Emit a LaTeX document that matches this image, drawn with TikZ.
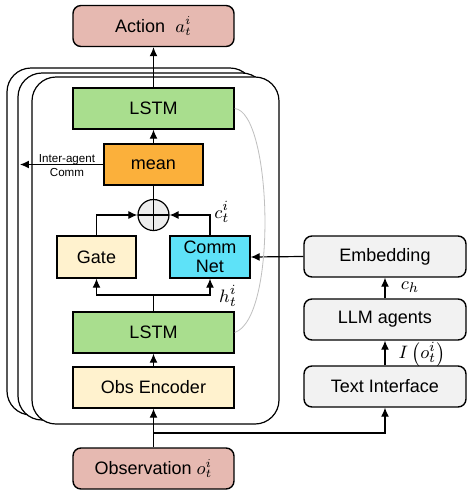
\documentclass[tikz,border=0pt]{standalone}
\usepackage{fontspec}
\setmainfont{Liberation Sans}
\usetikzlibrary{arrows.meta, calc}

\definecolor{pinkbox}{RGB}{230,185,177}
\definecolor{lstmgreen}{RGB}{169,222,142}
\definecolor{meanorange}{RGB}{251,176,59}
\definecolor{creambox}{RGB}{255,242,206}
\definecolor{commcyan}{RGB}{94,226,248}
\definecolor{greybox}{RGB}{242,242,242}

\tikzset{
    blk/.style={draw, line width=0.7pt, minimum width=80.5pt, minimum height=20.5pt, inner sep=1pt, font=\fontsize{9}{10}\selectfont},
    rblk/.style={blk, rounded corners=4pt},
    agent/.style={draw, line width=0.6pt, rounded corners=12pt, fill=white},
    lbl/.style={font=\fontsize{9.5}{10}\selectfont},
}

\begin{document}
\begin{tikzpicture}[x=0.5pt, y=-0.5pt, >={Latex[length=4.5pt,width=4pt]}, line width=0.6pt]
            \useasboundingbox (0,0) rectangle (474,495);
            % Stacked agents:
            \draw [agent] (7,68) rectangle (254,415);
            \draw [agent] (18,73) rectangle (266,420);
            \draw [agent] (32,77) rectangle (279,424);

            % Blocks of one agent:
            \node [rblk, fill=pinkbox] (action) at (153.5,26) {Action\ \ $a_t^i$};
            \node [blk, fill=lstmgreen] (lstmtop) at (153.5,108.5) {LSTM};
            \node [blk, fill=meanorange, minimum width=49.5pt] (mean) at (153.5,164.5) {mean};
            \node [draw, circle, fill=black!7, minimum size=15.5pt, inner sep=0pt,
                   path picture={\draw (path picture bounding box.north) -- (path picture bounding box.south)
                                       (path picture bounding box.west) -- (path picture bounding box.east);}]
                  (plus) at (153.5,215) {};
            \node [blk, fill=creambox, minimum width=39.5pt, minimum height=21pt] (gate) at (96.5,257) {Gate};
            \node [blk, fill=commcyan, minimum width=40pt, minimum height=21pt, align=center,
                   font=\fontsize{9}{9.5}\selectfont] (commnet) at (210,257) {Comm\\Net};
            \node [blk, fill=lstmgreen] (lstmbot) at (153.5,332.5) {LSTM};
            \node [blk, fill=creambox] (encoder) at (153.5,387.5) {Obs Encoder};
            \node [rblk, fill=pinkbox] (obs) at (153.5,468.5) {Observation\ $o_t^i$};

            % LLM side:
            \node [rblk, fill=greybox, minimum width=81pt] (embed) at (385,256.5) {Embedding};
            \node [rblk, fill=greybox, minimum width=81pt] (llm) at (385,319.5) {LLM agents};
            \node [rblk, fill=greybox, minimum width=81pt] (textif) at (385,386.5) {Text Interface};

            \coordinate (split) at (153.5,295);
            \coordinate (branch) at (153.5,433);
            \coordinate (out) at (20,164.5);

            % Connectors:
            \draw [->] (lstmtop) -- (action);
            \draw [->] (mean) -- (lstmtop);
            \draw (plus) -- (mean);
            \draw [->] (gate.north) |- (plus.west);
            \draw [->] (commnet.north) |- (plus.east);
            \draw [->] (mean.west) -- (out);
            \draw (lstmbot.north) -- (split);
            \draw [->] (split) -| (gate.south);
            \draw [->] (split) -| (commnet.south);
            \draw [->] (encoder) -- (lstmbot);
            \draw [->] (obs) -- (encoder);
            \draw [->] (branch) -| (textif.south);
            \draw [->] (textif) -- (llm);
            \draw [->] (llm) -- (embed);
            \draw [->] (embed.west) -- (commnet.east);
            \draw [black!25, line width=0.4pt] (lstmtop.east) .. controls (272,112) and (278,318) .. (lstmbot.east);

            % Labels:
            \node [font=\fontsize{5.8}{6.8}\selectfont, align=center] (interlbl) at (67,165.5) {Inter-agent\\Comm};
            \node [lbl] (clbl) at (222,212) {$c_t^i$};
            \node [lbl] (hlbl) at (228,296) {$h_t^i$};
            \node [lbl] (chlbl) at (410,287) {$c_h$};
            \node [lbl] (ilbl) at (422,354) {$I\left(o_t^i\right)$};
\end{tikzpicture}
\end{document}
